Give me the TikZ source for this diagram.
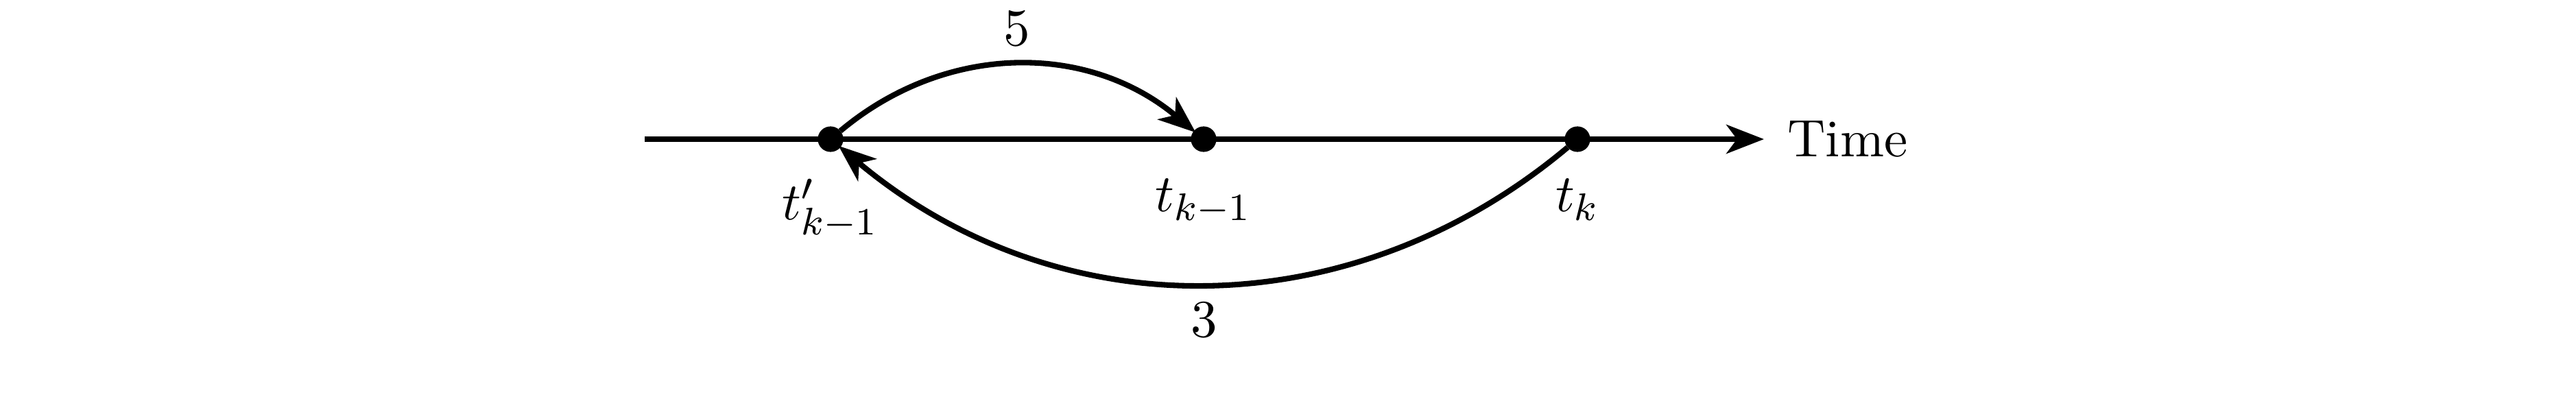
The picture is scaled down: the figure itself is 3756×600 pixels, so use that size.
\documentclass[tikz,border=0pt]{standalone}
\usetikzlibrary{arrows.meta,positioning}
\begin{document}
\begin{tikzpicture}[x=0.005cm,y=0.005cm,
  every node/.style={font=\fontsize{10.95pt}{13pt}\selectfont},
  dot/.style={circle,fill=black,inner sep=0pt,outer sep=0pt,minimum size=5.3pt},
  lbl/.style={inner sep=0pt},
  arr/.style={line width=1.15pt,-{Stealth[length=7.8pt,width=6pt,inset=2.2pt]}},
]
\useasboundingbox (0,0) rectangle (3756,600);
\coordinate (s) at (940,397);
\coordinate (e) at (2572,397);
\draw[arr] (s) -- (e);
\node[dot] (a) at (1211,397) {};
\node[dot] (b) at (1755,397) {};
\node[dot] (c) at (2300,397) {};
\node[lbl, right=4.7pt of e] (time) {Time};
\node[lbl, below=5.48pt of a] (la) {$t'_{k-1}$};
\node[lbl, below=5.48pt of b] (lb) {$t_{k-1}$};
\node[lbl, below=5.48pt of c] (lc) {$t_k$};
\draw[arr, shorten >=-0.5pt] (a) to[bend left=40] node[above] (five) {$5$} (b);
\draw[arr, shorten >=-0.5pt] (c) to[bend left=40] node[below] (three) {$3$} (a);
\end{tikzpicture}
\end{document}
